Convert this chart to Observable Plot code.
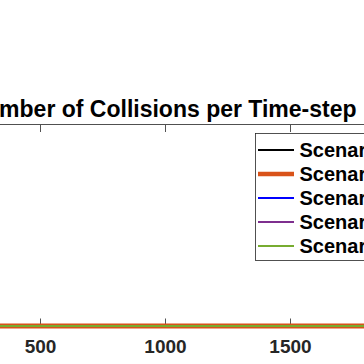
<!DOCTYPE html>
<html>
<head>
<meta charset="utf-8">
<script src="https://cdn.jsdelivr.net/npm/d3@7"></script>
<script src="https://cdn.jsdelivr.net/npm/@observablehq/plot@0.6"></script>
<style>
  html, body { margin: 0; padding: 0; background: #fff; }
  #wrap { position: relative; width: 364px; height: 364px; overflow: hidden; background: #fff; }
  #chart { position: absolute; left: -185px; top: 0; width: 650px; height: 380px; }
  #chart svg { max-width: none !important; }
  #legend { position: absolute; left: 0; top: 0; pointer-events: none; }
</style>
</head>
<body>
<div id="wrap">
  <div id="chart"></div>
  <svg id="legend" width="364" height="364"></svg>
</div>
<script>
const titleText = "Number of Collisions per Time-step";
const scenarios = ["Scenario 1", "Scenario 2", "Scenario 3", "Scenario 4", "Scenario 5"];
const seriesColors = ["#000000", "#D95319", "#0000FF", "#7E2F8E", "#77AC30"];
const seriesWidths = [1.5, 5, 1.5, 1.5, 2];
const timeSteps = [0, 2000];
const collisions1 = [0, 0];
const collisions2 = [0, 0];
const collisions3 = [0, 0];
const collisions4 = [0, 0];
const collisions5 = [0, 0];
const xTicks = [0, 500, 1000, 1500, 2000];

const allSeries = [collisions1, collisions2, collisions3, collisions4, collisions5];
const fontFamily = "'Liberation Sans', Arial, Helvetica, sans-serif";

const lineMarks = allSeries.map((vals, i) =>
  Plot.line(timeSteps.map((t, j) => ({t, v: vals[j], s: scenarios[i]})), {
    x: "t", y: "v", stroke: seriesColors[i], strokeWidth: seriesWidths[i]
  })
);

const axisColor = "#262626";

const plot = Plot.plot({
  width: 650,
  height: 380,
  marginLeft: 100,
  marginRight: 50,
  marginTop: 124,
  marginBottom: 54.5,
  style: {fontFamily, background: "transparent", color: axisColor},
  x: {domain: [0, 2000], label: null},
  y: {domain: [0, 1], axis: null, label: null},
  marks: [
    Plot.frame({stroke: axisColor, strokeWidth: 0.8}),
    Plot.axisX({anchor: "top", ticks: xTicks, tickSize: -7, tickFormat: () => "", label: null, stroke: axisColor, strokeWidth: 0.8}),
    Plot.axisX({anchor: "bottom", ticks: xTicks, tickSize: -7, tickFormat: () => "", label: null, stroke: axisColor, strokeWidth: 0.8}),
    Plot.axisX({anchor: "bottom", ticks: xTicks, tickSize: 0, tickPadding: 13, tickFormat: d => String(d), label: null,
      fontSize: 19, fontWeight: "bold", fill: axisColor}),
    ...lineMarks,
    Plot.text([titleText], {text: d => d, frameAnchor: "top", dy: -8, dx: -3, lineAnchor: "bottom",
      fontSize: 23, fontWeight: "bold", fill: "#000", ariaLabel: "title"})
  ]
});
d3.select(plot).selectAll("g[aria-label='title'] text").style("letter-spacing", "1.6px");
document.getElementById("chart").appendChild(plot);

// legend
const leg = d3.select("#legend");
const lx = 255.5, ly = 133.5, lw = 140, lh = 127;
leg.append("rect").attr("x", lx).attr("y", ly).attr("width", lw).attr("height", lh)
  .attr("fill", "#fff").attr("stroke", axisColor).attr("stroke-width", 0.8);
scenarios.forEach((name, i) => {
  const cy = 150 + i * 24;
  leg.append("line").attr("x1", 258).attr("x2", 294).attr("y1", cy).attr("y2", cy)
    .attr("stroke", seriesColors[i]).attr("stroke-width", i === 1 ? 4.5 : 1.8);
  leg.append("text").attr("x", 299.5).attr("y", cy + 6.5).text(name)
    .attr("font-family", fontFamily).attr("font-weight", "bold").attr("font-size", 20).attr("fill", "#000");
});
</script>
</body>
</html>
